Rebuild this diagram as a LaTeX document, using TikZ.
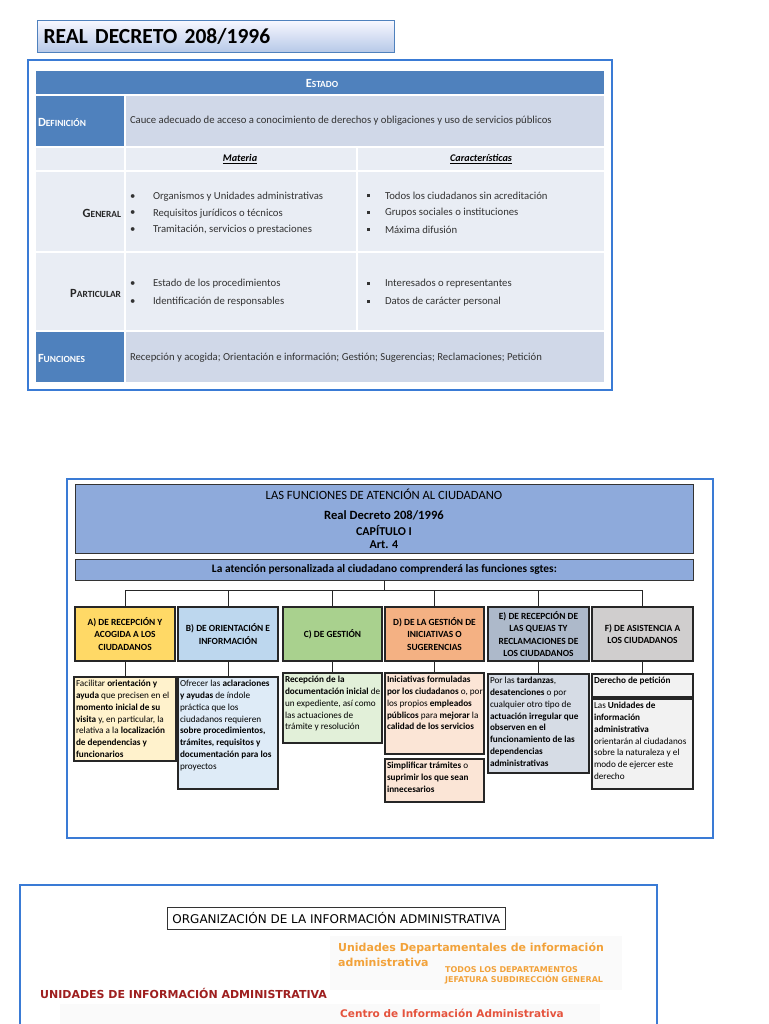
\documentclass[tikz,border=0pt]{standalone}
\usepackage{fontspec}
\setmainfont{Carlito}
\newfontfamily\verd{DejaVu Sans}
\usetikzlibrary{calc}
\definecolor{hdrblue}{HTML}{4F81BD}
\definecolor{cellgray}{HTML}{D0D8E8}
\definecolor{celllight}{HTML}{E9EDF4}
\definecolor{framebl}{HTML}{3A7BD5}
\definecolor{chartbl}{HTML}{8EAADB}
\definecolor{fa}{HTML}{FFD966}\definecolor{fad}{HTML}{FFF2CC}
\definecolor{fb}{HTML}{BDD7EE}\definecolor{fbd}{HTML}{DEEBF7}
\definecolor{fc}{HTML}{A9D18E}\definecolor{fcd}{HTML}{E2F0D9}
\definecolor{fd}{HTML}{F4B183}\definecolor{fdd}{HTML}{FBE5D6}
\definecolor{fe}{HTML}{ADB9CA}\definecolor{fed}{HTML}{D6DCE5}
\definecolor{ff}{HTML}{D0CECE}\definecolor{ffd}{HTML}{F2F2F2}
\definecolor{orgorange}{HTML}{F2A23A}
\definecolor{orgred}{HTML}{9E1F1F}
\definecolor{orgcentro}{HTML}{E5533D}
\newcommand\sca[2]{{\fontsize{12.5}{14}\selectfont #1}{\fontsize{9.4}{11}\selectfont #2}}
\newcommand\sqb{\rule[0.8pt]{3pt}{3pt}}
\newcommand\dnode[7]{\node[dbox, fill=#6, minimum width=#4pt, minimum height=#5pt] (#1) at (#2,#3) {\parbox[t][\dimexpr#5pt-2pt\relax][t]{\dimexpr#4pt-4pt\relax}{\begin{tabular}[t]{@{}l@{}}#7\end{tabular}}};}
\begin{document}
\begin{tikzpicture}[x=1pt,y=-1pt,
  txt/.style={inner sep=0pt, outer sep=0pt, font=\fontsize{10.7}{12}\selectfont, text=black!80},
  lbl/.style={inner sep=0pt, outer sep=0pt, font=\bfseries, text=white},
  fbox/.style={draw=black!85, line width=1.1pt, inner sep=1pt, outer sep=0pt, align=center, anchor=north west, font=\bfseries\fontsize{9.4}{12.6}\selectfont},
  dbox/.style={draw=black!85, line width=1.1pt, inner xsep=2pt, inner ysep=0pt, outer sep=0pt, anchor=north west, font=\fontsize{9.2}{11.9}\selectfont},
  conn/.style={draw=black!85, line width=0.9pt}]
\useasboundingbox (0,0) rectangle (768,1024);
\fill[white] (0,0) rectangle (768,1024);

% ---------- title ----------
\node[draw=hdrblue, line width=1.2pt, top color=blue!3, bottom color=chartbl!65, minimum width=357pt, minimum height=32pt, text width=345pt, inner xsep=6pt, align=left, anchor=north west, font=\bfseries\fontsize{21.5}{24}\selectfont] (title) at (37,20) {REAL DECRETO 208/1996};

% ---------- table ----------
\draw[framebl, line width=1.6pt] (28,60) rectangle (612,390);
\fill[hdrblue] (36,71) rectangle (604,94);
\node[lbl] at (322,83) {\sca{E}{STADO}};
\fill[hdrblue] (36,96) rectangle (124,146);
\fill[cellgray] (126,96) rectangle (604,146);
\node[lbl, anchor=west] at (38,122) {\sca{D}{EFINICIÓN}};
\node[txt, anchor=west] at (130,121) {Cauce adecuado de acceso a conocimiento de derechos y obligaciones y uso de servicios públicos};
\foreach \ya/\yb in {148/170, 172/251, 253/330} {
  \fill[celllight] (36,\ya) rectangle (124,\yb);
  \fill[celllight] (126,\ya) rectangle (356,\yb);
  \fill[celllight] (358,\ya) rectangle (604,\yb);
}
\node[txt, text=black, font=\fontsize{10.2}{12}\selectfont] at (240,159) {\underline{\textbf{\textit{Materia}}}};
\node[txt, text=black, font=\fontsize{10.2}{12}\selectfont] at (481,159) {\underline{\textbf{\textit{Características}}}};
\node[lbl, text=black!85, anchor=east] at (121,213) {\sca{G}{ENERAL}};
\node[lbl, text=black!85, anchor=east] at (121,293) {\sca{P}{ARTICULAR}};
\foreach \t [count=\i] in {Organismos y Unidades administrativas, Requisitos jurídicos o técnicos, {Tramitación, servicios o prestaciones}} {
  \node[txt, anchor=west] at (130,180.5+16.5*\i) {\textbullet};
  \node[txt, anchor=west] at (153,180.5+16.5*\i) {\t};
}
\foreach \t [count=\i] in {Todos los ciudadanos sin acreditación, Grupos sociales o instituciones, Máxima difusión} {
  \node[txt, anchor=west] at (367,179.5+16.8*\i) {\sqb};
  \node[txt, anchor=west] at (385,179.5+16.8*\i) {\t};
}
\foreach \t [count=\i] in {Estado de los procedimientos, Identificación de responsables} {
  \node[txt, anchor=west] at (130,266+18*\i) {\textbullet};
  \node[txt, anchor=west] at (153,266+18*\i) {\t};
}
\foreach \t [count=\i] in {Interesados o representantes, Datos de carácter personal} {
  \node[txt, anchor=west] at (367,266+18*\i) {\sqb};
  \node[txt, anchor=west] at (385,266+18*\i) {\t};
}
\fill[hdrblue] (36,332) rectangle (124,382);
\fill[cellgray] (126,332) rectangle (604,382);
\node[lbl, anchor=west] at (38,358) {\sca{F}{UNCIONES}};
\node[txt, anchor=west] at (130,358) {Recepción y acogida; Orientación e información; Gestión; Sugerencias; Reclamaciones; Petición};

% ---------- functions chart ----------
\draw[framebl, line width=1.3pt] (67,479) rectangle (713,838);
\node[draw=black!80, line width=0.8pt, fill=chartbl, minimum width=618pt, minimum height=69pt, anchor=north west] (head) at (75,484) {};
\node[inner sep=0pt, font=\fontsize{12.6}{14}\selectfont] at (384,494) {LAS FUNCIONES DE ATENCIÓN AL CIUDADANO};
\node[inner sep=0pt, font=\bfseries\fontsize{12.6}{14}\selectfont] at (384,515) {Real Decreto 208/1996};
\node[inner sep=0pt, font=\bfseries\fontsize{12}{14}\selectfont] at (384,530) {CAPÍTULO I};
\node[inner sep=0pt, font=\bfseries\fontsize{12}{14}\selectfont] at (384,545) {Art. 4};
\node[draw=black!80, line width=0.8pt, fill=chartbl, minimum width=618pt, minimum height=21pt, anchor=north west, inner sep=0pt, font=\bfseries\fontsize{11.4}{13}\selectfont] (banner) at (75,559) {La atención personalizada al ciudadano comprenderá las funciones sgtes:};

\node[fbox, fill=fa, minimum width=100pt, minimum height=54pt] (A) at (75,607) {A) DE RECEPCIÓN Y\\ACOGIDA A LOS\\CIUDADANOS};
\node[fbox, fill=fb, minimum width=100pt, minimum height=54pt] (B) at (178,607) {B) DE ORIENTACIÓN E\\INFORMACIÓN};
\node[fbox, fill=fc, minimum width=99pt, minimum height=54pt] (C) at (283,607) {C) DE GESTIÓN};
\node[fbox, fill=fd, minimum width=99pt, minimum height=54pt] (D) at (385,607) {D) DE LA GESTIÓN DE\\INICIATIVAS O\\SUGERENCIAS};
\node[fbox, fill=fe, minimum width=101pt, minimum height=54pt] (E) at (488,607) {E) DE RECEPCIÓN DE\\LAS QUEJAS TY\\RECLAMACIONES DE\\LOS CIUDADANOS};
\node[fbox, fill=ff, minimum width=101pt, minimum height=54pt] (F) at (592,607) {F) DE ASISTENCIA A\\LOS CIUDADANOS};

\coordinate (bar) at ($(banner.south)+(0,10)$);
\draw[conn] (banner.south) -- (bar);
\draw[conn] (bar -| A.north) -- (bar -| F.north);
\foreach \b in {A,B,C,D,E,F} \draw[conn] (bar -| \b.north) -- (\b.north);

\dnode{Ad}{74}{677}{102}{84}{fad}{Facilitar \textbf{orientación y}\\\textbf{ayuda} que precisen en el\\\textbf{momento inicial de su}\\\textbf{visita} y, en particular, la\\relativa a la \textbf{localización}\\\textbf{de dependencias y}\\\textbf{funcionarios}}
\dnode{Bd}{178}{677}{100}{112}{fbd}{Ofrecer las \textbf{aclaraciones}\\\textbf{y ayudas} de índole\\práctica que los\\ciudadanos requieren\\\textbf{sobre procedimientos,}\\\textbf{trámites, requisitos y}\\\textbf{documentación para los}\\proyectos}
\dnode{Cd}{283}{673}{99}{70}{fcd}{\textbf{Recepción de la}\\\textbf{documentación inicial} de\\un expediente, así como\\las actuaciones de\\trámite y resolución}
\dnode{Dd}{385}{673}{99}{81}{fdd}{\textbf{Iniciativas formuladas}\\\textbf{por los ciudadanos} o, por\\los propios \textbf{empleados}\\\textbf{públicos} para \textbf{mejorar} la\\\textbf{calidad de los servicios}}
\dnode{Dd2}{385}{759}{99}{43}{fdd}{\textbf{Simplificar trámites} o\\\textbf{suprimir los que sean}\\\textbf{innecesarios}}
\dnode{Ed}{488}{674}{101}{99}{fed}{Por las \textbf{tardanzas},\\\textbf{desatenciones} o por\\cualquier otro tipo de\\\textbf{actuación irregular que}\\\textbf{observen en el}\\\textbf{funcionamiento de las}\\\textbf{dependencias}\\\textbf{administrativas}}
\dnode{Fd}{592}{674}{101}{23}{ffd}{\textbf{Derecho de petición}}
\dnode{Fd2}{592}{699}{101}{90}{ffd}{Las \textbf{Unidades de}\\\textbf{información}\\\textbf{administrativa}\\orientarán al ciudadanos\\sobre la naturaleza y el\\modo de ejercer este\\derecho}
\foreach \b in {A,B,C,D,E,F} \draw[conn] (\b.south) -- (\b d.north);

% ---------- organisation ----------
\draw[framebl, line width=1.3pt] (20,885) rectangle (657,1040);
\fill[black!2] (330,936) rectangle (622,990);
\fill[black!2] (60,1004) rectangle (600,1030);
\node[draw=black!80, line width=0.8pt, fill=white, minimum width=338pt, minimum height=22pt, anchor=north west, inner sep=0pt, font=\verd\fontsize{12}{14}\selectfont] (org) at (167,907) {ORGANIZACIÓN DE LA INFORMACIÓN ADMINISTRATIVA};
\node[inner sep=0pt, anchor=west, text=orgorange, font=\verd\bfseries\fontsize{11}{13}\selectfont] at (338,948) {Unidades Departamentales de información};
\node[inner sep=0pt, anchor=west, text=orgorange, font=\verd\bfseries\fontsize{11}{13}\selectfont] at (338,962) {administrativa};
\node[inner sep=0pt, anchor=west, text=orgorange, font=\verd\bfseries\fontsize{8}{9}\selectfont] at (445,970) {TODOS LOS DEPARTAMENTOS};
\node[inner sep=0pt, anchor=west, text=orgorange, font=\verd\bfseries\fontsize{8}{9}\selectfont] at (445,980) {JEFATURA SUBDIRECCIÓN GENERAL};
\node[inner sep=0pt, anchor=west, text=orgred, font=\verd\bfseries\fontsize{11}{13}\selectfont] at (40,993) {UNIDADES DE INFORMACIÓN ADMINISTRATIVA};
\node[inner sep=0pt, anchor=west, text=orgcentro, font=\verd\bfseries\fontsize{10.5}{12}\selectfont] at (340,1013) {Centro de Información Administrativa};
\end{tikzpicture}
\end{document}
